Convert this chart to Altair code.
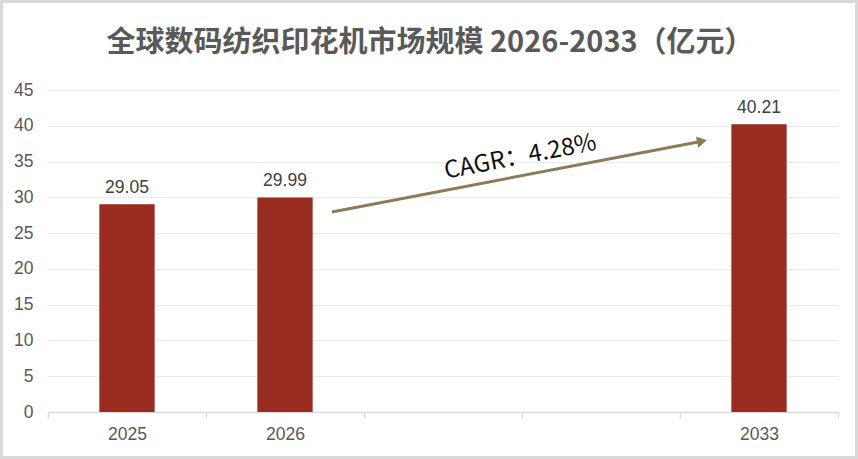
import altair as alt
import pandas as pd

# ---- data ----
categories = ["2025", "2026", " ", "  ", "2033"]
bar_years = ["2025", "2026", "2033"]
bar_values = [29.05, 29.99, 40.21]
bar_labels = ["29.05", "29.99", "40.21"]

# annotation (category index units: band i spans [i, i+1])
arrow_x_start = [1.797]
arrow_x_end = [4.139]
arrow_y_start = [27.95]
arrow_y_end = [37.85]
cagr_text = ["CAGR：4.28%"]
cagr_x = [2.99]
cagr_y = [35.6]

title_text = ["全球数码纺织印花机市场规模 2026-2033（亿元）"]

bars_df = pd.DataFrame({"year": bar_years, "value": bar_values, "label": bar_labels})
arrow_df = pd.DataFrame({"ax": arrow_x_start, "bx": arrow_x_end,
                         "ay": arrow_y_start, "by": arrow_y_end})
text_df = pd.DataFrame({"tx": cagr_x, "ty": cagr_y, "t": cagr_text})
title_df = pd.DataFrame({"t": title_text})

W, H = 790, 322

xscale = alt.Scale(domain=categories, paddingInner=0, paddingOuter=0)
yscale = alt.Scale(domain=[0, 45])
qx = alt.Scale(domain=[0, len(categories)], nice=False, zero=False)

x_axis = alt.Axis(
    title=None, labelAngle=0, labelFontSize=17.5, labelColor="#595959",
    labelFont="Liberation Sans", labelPadding=7,
    domainColor="#d9d9d9", domainWidth=1.5, tickColor="#d9d9d9", tickSize=6,
    tickWidth=1.5, tickBand="extent", grid=False,
)
y_axis = alt.Axis(
    title=None, values=[0, 5, 10, 15, 20, 25, 30, 35, 40, 45], labelFontSize=17.5,
    labelColor="#595959", labelFont="Liberation Sans", labelPadding=15,
    domain=False, ticks=False, gridColor="#ebebeb", gridWidth=1,
)

Y = lambda f: alt.Y(f, scale=yscale, axis=y_axis)

border = alt.Chart(title_df).mark_rect(
    fillOpacity=0, stroke="#d9d9d9", strokeWidth=3
).encode(
    x=alt.value(-46.5), x2=alt.value(808.5), y=alt.value(-88.5), y2=alt.value(367.5)
)

title = alt.Chart(title_df).mark_text(
    font="Noto Sans CJK SC", fontSize=29, fontWeight="bold", color="#595959",
    align="center", baseline="middle"
).encode(x=alt.value(382), y=alt.value(-47), text="t:N")

bars = alt.Chart(bars_df).mark_bar(color="#992b1f", width=alt.RelativeBandSize(0.35)).encode(
    x=alt.X("year:N", scale=xscale, axis=x_axis, sort=categories),
    y=Y("value:Q"),
)

labels = alt.Chart(bars_df).mark_text(
    dy=-11, baseline="alphabetic", fontSize=17.5, color="#404040", font="Liberation Sans"
).encode(
    x=alt.X("year:N", scale=xscale, sort=categories, axis=None),
    y=Y("value:Q"),
    text="label:N",
)

arrow_line = alt.Chart(arrow_df).mark_rule(color="#8c7b58", strokeWidth=3).encode(
    x=alt.X("ax:Q", scale=qx, axis=None),
    x2="bx:Q",
    y=Y("ay:Q"),
    y2="by:Q",
)

arrow_head = alt.Chart(arrow_df).mark_point(
    shape="triangle-right", filled=True, color="#8c7b58", size=130, angle=349, opacity=1
).encode(
    x=alt.X("bx:Q", scale=qx, axis=None),
    y=Y("by:Q"),
)

cagr = alt.Chart(text_df).mark_text(
    fontSize=24, font="Noto Sans CJK SC", color="#111111", angle=349, baseline="middle"
).encode(
    x=alt.X("tx:Q", scale=qx, axis=None),
    y=Y("ty:Q"),
    text="t:N",
)

chart = alt.layer(border, title, bars, labels, arrow_line, arrow_head, cagr).resolve_scale(
    x="independent"
).properties(
    width=W, height=H, padding=0,
).configure_view(stroke=None)

chart.save("out.html", embed_options={"renderer": "svg", "actions": False})
